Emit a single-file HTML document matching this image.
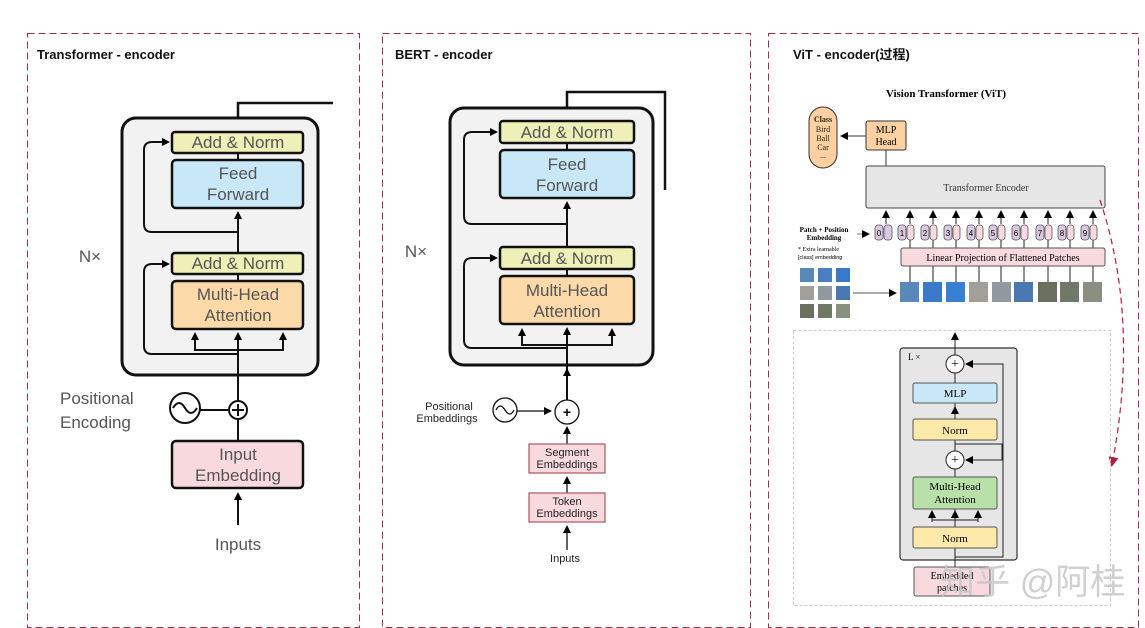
<!DOCTYPE html>
<html><head><meta charset="utf-8"><style>
body{margin:0;background:#fff}
svg{display:block}
text{font-family:"Liberation Sans","Noto Sans CJK SC",sans-serif}
.s{font-family:"Liberation Serif",serif}
</style></head><body>
<svg width="1145" height="628" viewBox="0 0 1145 628" xmlns="http://www.w3.org/2000/svg">
<defs>
<marker id="a" markerWidth="8" markerHeight="8" refX="6" refY="4" orient="auto" markerUnits="userSpaceOnUse"><path d="M0,0L8,4L0,8z" fill="#000"/></marker>
<marker id="r" markerWidth="10" markerHeight="10" refX="8" refY="5" orient="auto" markerUnits="userSpaceOnUse"><path d="M0,0L10,5L0,10z" fill="#b0203a"/></marker>
</defs>
<g fill="none" stroke="#a0304a" stroke-width="1" stroke-dasharray="7,4">
<rect x="27.5" y="33.5" width="332" height="594"/>
<rect x="382.5" y="33.5" width="368" height="594"/>
<rect x="768.5" y="33.5" width="370" height="594"/>
</g>
<g font-weight="bold" font-size="13" fill="#111">
<text x="37" y="59">Transformer - encoder</text>
<text x="395" y="59">BERT - encoder</text>
<text x="793" y="59">ViT - encoder(过程)</text>
</g>

<!-- Panel 1 -->
<g stroke="#111">
<rect x="122" y="118" width="196" height="257" rx="14" fill="#f2f2f2" stroke-width="3"/>
<path d="M238,118V103H333" fill="none" stroke-width="2.5"/>
<rect x="172" y="132" width="131" height="21" rx="3" fill="#eef0b8" stroke-width="2.5"/>
<rect x="172" y="160" width="131" height="48" rx="4" fill="#c8e8f8" stroke-width="2.5"/>
<rect x="172" y="253" width="131" height="21" rx="3" fill="#eef0b8" stroke-width="2.5"/>
<rect x="172" y="281" width="131" height="48" rx="4" fill="#fcd9a9" stroke-width="2.5"/>
<rect x="172" y="441" width="131" height="47" rx="4" fill="#f8dade" stroke-width="2.5"/>
<g fill="none" stroke-width="2">
<path d="M238,153V160M238,274V281"/>
<path d="M238,253V213" marker-end="url(#a)"/>
<path d="M238,232H152Q144,232 144,224V150Q144,142 152,142H168" marker-end="url(#a)"/>
<path d="M238,354H152Q144,354 144,346V272Q144,264 152,264H168" marker-end="url(#a)"/>
<path d="M238,400V334" marker-end="url(#a)"/>
<path d="M195,350H283"/>
<path d="M195,351V334" marker-end="url(#a)"/>
<path d="M283,351V334" marker-end="url(#a)"/>
<path d="M238,441V420"/>
<path d="M238,525V494" marker-end="url(#a)"/>
<path d="M200,410H228"/>
</g>
<circle cx="238" cy="410" r="9" fill="#fff" stroke-width="2"/>
<path d="M232,410H244M238,404V416" stroke-width="2"/>
<circle cx="185" cy="408" r="15" fill="#fff" stroke-width="2"/>
<path d="M173,408Q179,398 185,408T197,408" fill="none" stroke-width="2"/>
</g>
<g fill="#555" font-size="17" text-anchor="middle">
<text x="238" y="148">Add &amp; Norm</text>
<text x="238" y="179">Feed</text><text x="238" y="200">Forward</text>
<text x="238" y="269">Add &amp; Norm</text>
<text x="238" y="300">Multi-Head</text><text x="238" y="321">Attention</text>
<text x="238" y="460">Input</text><text x="238" y="481">Embedding</text>
<text x="238" y="550">Inputs</text>
<text x="90" y="262">N×</text>
<text x="60" y="404" text-anchor="start">Positional</text>
<text x="60" y="428" text-anchor="start">Encoding</text>
</g>

<!-- Panel 2 -->
<g stroke="#111">
<rect x="450" y="108" width="203" height="257" rx="14" fill="#f2f2f2" stroke-width="3"/>
<path d="M567,108V92H665V190" fill="none" stroke-width="2.5"/>
<rect x="500" y="121" width="134" height="22" rx="3" fill="#eef0b8" stroke-width="2.5"/>
<rect x="500" y="150" width="134" height="48" rx="4" fill="#c8e8f8" stroke-width="2.5"/>
<rect x="500" y="247" width="134" height="22" rx="3" fill="#eef0b8" stroke-width="2.5"/>
<rect x="500" y="276" width="134" height="48" rx="4" fill="#fcd9a9" stroke-width="2.5"/>
<g fill="none" stroke-width="2">
<path d="M567,143V150M567,269V276"/>
<path d="M567,247V203" marker-end="url(#a)"/>
<path d="M567,224H472Q464,224 464,216V140Q464,132 472,132H496" marker-end="url(#a)"/>
<path d="M567,348H472Q464,348 464,340V266Q464,258 472,258H496" marker-end="url(#a)"/>
<path d="M567,400V329" marker-end="url(#a)"/>
<path d="M522,345H612"/>
<path d="M522,346V330" marker-end="url(#a)"/>
<path d="M612,346V330" marker-end="url(#a)"/>
<path d="M567,381V370" marker-end="url(#a)"/>
</g>
</g>
<g stroke="#111" stroke-width="1.3" fill="none">
<path d="M517,411H550" marker-end="url(#a)"/>
<path d="M567,444V428" marker-end="url(#a)"/>
<path d="M567,493V478" marker-end="url(#a)"/>
<path d="M567,550V527" marker-end="url(#a)"/>
<circle cx="567" cy="412" r="12" fill="#fff"/>
<circle cx="505" cy="410" r="12" fill="#fff"/>
<path d="M496,410Q500,402 505,410T514,410"/>
<rect x="529" y="444" width="76" height="29" fill="#f8dade" stroke="#b06070"/>
<rect x="529" y="493" width="76" height="29" fill="#f8dade" stroke="#b06070"/>
</g>
<text x="567" y="417" text-anchor="middle" font-size="14" font-weight="bold">+</text>
<g font-size="11" fill="#222" text-anchor="middle">
<text x="449" y="410">Positional</text><text x="447" y="422">Embeddings</text>
<text x="567" y="456">Segment</text><text x="567" y="468">Embeddings</text>
<text x="567" y="505">Token</text><text x="567" y="517">Embeddings</text>
<text x="565" y="562">Inputs</text>
</g>
<g fill="#555" font-size="17" text-anchor="middle">
<text x="567" y="138">Add &amp; Norm</text>
<text x="567" y="170">Feed</text><text x="567" y="191">Forward</text>
<text x="567" y="264">Add &amp; Norm</text>
<text x="567" y="296">Multi-Head</text><text x="567" y="317">Attention</text>
<text x="416" y="257">N×</text>
</g>

<!-- Panel 3 -->
<text class="s" x="946" y="97" text-anchor="middle" font-size="11" font-weight="bold">Vision Transformer (ViT)</text>
<rect x="809" y="107" width="28" height="61" rx="14" fill="#fcd0a0" stroke="#333"/>
<g class="s" font-size="8" text-anchor="middle" fill="#222">
<text x="823" y="122" font-weight="bold" class="s">Class</text>
<text x="823" y="132" class="s">Bird</text><text x="823" y="141" class="s">Ball</text><text x="823" y="150" class="s">Car</text><text x="823" y="158" class="s">...</text>
</g>
<rect x="866" y="121" width="40" height="29" rx="2" fill="#fcd0a0" stroke="#333"/>
<text class="s" x="886" y="133" text-anchor="middle" font-size="10">MLP</text>
<text class="s" x="886" y="145" text-anchor="middle" font-size="10">Head</text>
<path d="M866,136H842" stroke="#333" marker-end="url(#a)"/>
<path d="M886,150V166" stroke="#333"/>
<rect x="866" y="166" width="239" height="42" rx="2" fill="#e6e6e6" stroke="#444"/>
<text class="s" x="986" y="191" text-anchor="middle" font-size="10" fill="#333">Transformer Encoder</text>
<g stroke="#222" stroke-width="1" fill="none">
<path d="M886,224V212" marker-end="url(#a)"/>
<path d="M910,224V212" marker-end="url(#a)"/>
<path d="M933,224V212" marker-end="url(#a)"/>
<path d="M956,224V212" marker-end="url(#a)"/>
<path d="M979,224V212" marker-end="url(#a)"/>
<path d="M1001,224V212" marker-end="url(#a)"/>
<path d="M1024,224V212" marker-end="url(#a)"/>
<path d="M1048,224V212" marker-end="url(#a)"/>
<path d="M1070,224V212" marker-end="url(#a)"/>
<path d="M1093,224V212" marker-end="url(#a)"/>
<path d="M910,248V240M933,248V240M956,248V240M979,248V240M1001,248V240M1024,248V240M1048,248V240M1070,248V240M1093,248V240"/>
<path d="M910,282V266M933,282V266M956,282V266M979,282V266M1001,282V266M1024,282V266M1048,282V266M1070,282V266M1093,282V266"/>
<path d="M853,293H895" stroke="#555" marker-end="url(#a)"/>
<path d="M857,234H868" stroke="#777" marker-end="url(#a)"/>
</g>
<g fill="#d8c8e0" stroke="#555" stroke-width="0.8">
<rect x="875" y="225" width="8" height="15" rx="3"/><rect x="884" y="225" width="8" height="15" rx="3"/>
<rect x="898" y="225" width="8" height="15" rx="3"/><rect x="907" y="225" width="7" height="15" rx="3" fill="#f8dade"/>
<rect x="921" y="225" width="8" height="15" rx="3"/><rect x="930" y="225" width="7" height="15" rx="3" fill="#f8dade"/>
<rect x="944" y="225" width="8" height="15" rx="3"/><rect x="953" y="225" width="7" height="15" rx="3" fill="#f8dade"/>
<rect x="967" y="225" width="8" height="15" rx="3"/><rect x="976" y="225" width="7" height="15" rx="3" fill="#f8dade"/>
<rect x="989" y="225" width="8" height="15" rx="3"/><rect x="998" y="225" width="7" height="15" rx="3" fill="#f8dade"/>
<rect x="1012" y="225" width="8" height="15" rx="3"/><rect x="1021" y="225" width="7" height="15" rx="3" fill="#f8dade"/>
<rect x="1036" y="225" width="8" height="15" rx="3"/><rect x="1045" y="225" width="7" height="15" rx="3" fill="#f8dade"/>
<rect x="1058" y="225" width="8" height="15" rx="3"/><rect x="1067" y="225" width="7" height="15" rx="3" fill="#f8dade"/>
<rect x="1081" y="225" width="8" height="15" rx="3"/><rect x="1090" y="225" width="7" height="15" rx="3" fill="#f8dade"/>
</g>
<g class="s" font-size="8" text-anchor="middle">
<text x="879" y="236">0</text><text x="902" y="236">1</text><text x="925" y="236">2</text><text x="948" y="236">3</text><text x="971" y="236">4</text><text x="993" y="236">5</text><text x="1016" y="236">6</text><text x="1040" y="236">7</text><text x="1062" y="236">8</text><text x="1085" y="236">9</text>
</g>
<text class="s" x="824" y="232" text-anchor="middle" font-size="7" font-weight="bold">Patch + Position</text>
<text class="s" x="824" y="240" text-anchor="middle" font-size="7" font-weight="bold">Embedding</text>
<text class="s" x="798" y="251" font-size="6">* Extra learnable</text>
<text x="798" y="259" font-size="5.5" font-family="Liberation Mono">[class] embedding</text>
<rect x="901" y="248" width="204" height="18" rx="2" fill="#f8dade" stroke="#555"/>
<text class="s" x="1003" y="261" text-anchor="middle" font-size="10">Linear Projection of Flattened Patches</text>
<g fill="#5a88b8">
<rect x="900" y="282" width="19" height="20"/><rect x="923" y="282" width="19" height="20" fill="#3a78c8"/><rect x="946" y="282" width="19" height="20" fill="#3a80d0"/><rect x="969" y="282" width="19" height="20" fill="#a0a098"/><rect x="992" y="282" width="19" height="20" fill="#9098a0"/><rect x="1014" y="282" width="19" height="20" fill="#4a78b0"/><rect x="1038" y="282" width="19" height="20" fill="#6a7060"/><rect x="1060" y="282" width="19" height="20" fill="#707868"/><rect x="1083" y="282" width="19" height="20" fill="#8a9080"/>
<rect x="800" y="268" width="14" height="14"/><rect x="818" y="268" width="14" height="14" fill="#4a80c0"/><rect x="836" y="268" width="14" height="14" fill="#3a78c8"/>
<rect x="800" y="286" width="14" height="14" fill="#a0a098"/><rect x="818" y="286" width="14" height="14" fill="#9098a0"/><rect x="836" y="286" width="14" height="14" fill="#4a78b0"/>
<rect x="800" y="304" width="14" height="14" fill="#6a7060"/><rect x="818" y="304" width="14" height="14" fill="#707868"/><rect x="836" y="304" width="14" height="14" fill="#8a9080"/>
</g>
<path d="M1100,200Q1140,320 1112,465" fill="none" stroke="#b0203a" stroke-width="1.2" stroke-dasharray="6,4" marker-end="url(#r)"/>
<rect x="793.5" y="330.5" width="317" height="275" fill="none" stroke="#ccc" stroke-dasharray="3,2"/>
<rect x="900" y="348" width="117" height="212" rx="3" fill="#e6e6e6" stroke="#333" stroke-width="1.2"/>
<text class="s" x="908" y="360" font-size="9">L ×</text>
<g stroke="#222" stroke-width="1" fill="none">
<path d="M955,567V373"/>
<path d="M955,355V334" marker-end="url(#a)"/>
<path d="M955,557H1003V364H967" marker-end="url(#a)"/>
<path d="M955,444H1002V460H967" marker-end="url(#a)"/>
<path d="M932,520H978"/>
<path d="M932,522V512" marker-end="url(#a)"/>
<path d="M955,522V512" marker-end="url(#a)"/>
<path d="M978,522V512" marker-end="url(#a)"/>
<path d="M955,417V408" marker-end="url(#a)"/>
</g>
<rect x="913" y="383" width="84" height="20" rx="2" fill="#c8e8f8" stroke="#555"/>
<rect x="913" y="419" width="84" height="21" rx="2" fill="#fce8a8" stroke="#555"/>
<rect x="913" y="477" width="84" height="32" rx="2" fill="#b8e0a8" stroke="#555"/>
<rect x="913" y="527" width="84" height="21" rx="2" fill="#fce8a8" stroke="#555"/>
<rect x="914" y="567" width="76" height="29" rx="2" fill="#f8dade" stroke="#555"/>
<circle cx="955" cy="364" r="9" fill="#fff" stroke="#222"/>
<circle cx="955" cy="460" r="9" fill="#fff" stroke="#222"/>
<g class="s" text-anchor="middle" font-size="11">
<text x="955" y="368" class="s" font-size="14">+</text><text x="955" y="464" class="s" font-size="14">+</text>
<text x="955" y="397" class="s">MLP</text>
<text x="955" y="434" class="s">Norm</text>
<text x="955" y="490" class="s">Multi-Head</text><text x="955" y="503" class="s">Attention</text>
<text x="955" y="542" class="s">Norm</text>
<text x="952" y="579" font-size="10" class="s">Embedded</text><text x="952" y="591" font-size="10" class="s">patches</text>
</g>
<text x="940" y="594" font-size="35" fill="#c8c8c8" fill-opacity="0.85">知乎 @阿桂</text>
</svg>
</body></html>
